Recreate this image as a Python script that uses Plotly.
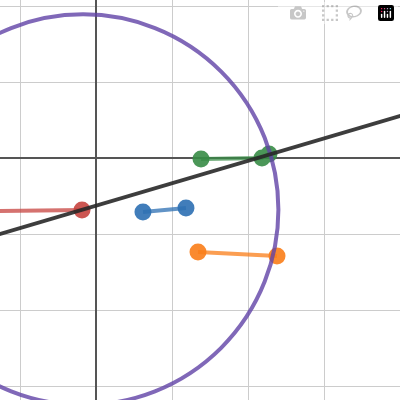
import plotly.graph_objects as go

circle_center = (-0.17, -0.68)
circle_radius = 2.57
line_slope = 0.295
line_intercept = -0.627

red_x = [-1.4, -0.184]; red_y = [-0.70, -0.684]
blue_x = [0.618, 1.184]; blue_y = [-0.711, -0.658]
green_x = [1.382, 2.184, 2.276]; green_y = [-0.013, 0.0, 0.053]
orange_x = [1.342, 2.382]; orange_y = [-1.237, -1.289]

xr = [-96/76, 304/76]
yr = [-242/76, 158/76]

fig = go.Figure()
fig.add_shape(type="circle", xref="x", yref="y",
              x0=circle_center[0]-circle_radius, x1=circle_center[0]+circle_radius,
              y0=circle_center[1]-circle_radius, y1=circle_center[1]+circle_radius,
              line=dict(color="rgba(96,66,166,0.8)", width=4))
fig.add_shape(type="line", xref="x", yref="y", x0=xr[0]-1, x1=xr[1]+1,
              y0=line_slope*(xr[0]-1)+line_intercept, y1=line_slope*(xr[1]+1)+line_intercept,
              line=dict(color="rgba(40,40,40,0.9)", width=4))

def seg(x, y, c, marker_idx):
    fig.add_trace(go.Scatter(x=x, y=y, mode="lines", line=dict(color=c, width=4),
                             opacity=0.75, showlegend=False, hoverinfo="skip"))
    fig.add_trace(go.Scatter(x=[x[i] for i in marker_idx], y=[y[i] for i in marker_idx],
                             mode="markers", marker=dict(color=c, size=17), opacity=0.9,
                             showlegend=False))

seg(red_x, red_y, "#c74440", [1])
seg(blue_x, blue_y, "#2d70b3", [0, 1])
seg(green_x, green_y, "#388c46", [0, 1, 2])
seg(orange_x, orange_y, "#fa7e19", [0, 1])

ax = dict(showgrid=True, gridcolor="#cccccc", gridwidth=1, dtick=1, zeroline=True,
          zerolinecolor="#555555", zerolinewidth=1.5, showticklabels=False, ticks="",
          showline=False, fixedrange=True)
fig.update_layout(width=400, height=400, margin=dict(l=0, r=0, t=0, b=0),
                  plot_bgcolor="white", paper_bgcolor="white",
                  xaxis=dict(range=xr, **ax), yaxis=dict(range=yr, **ax))
fig.write_html("out.html", post_script="document.body.style.margin='0';document.body.style.overflow='hidden';")
